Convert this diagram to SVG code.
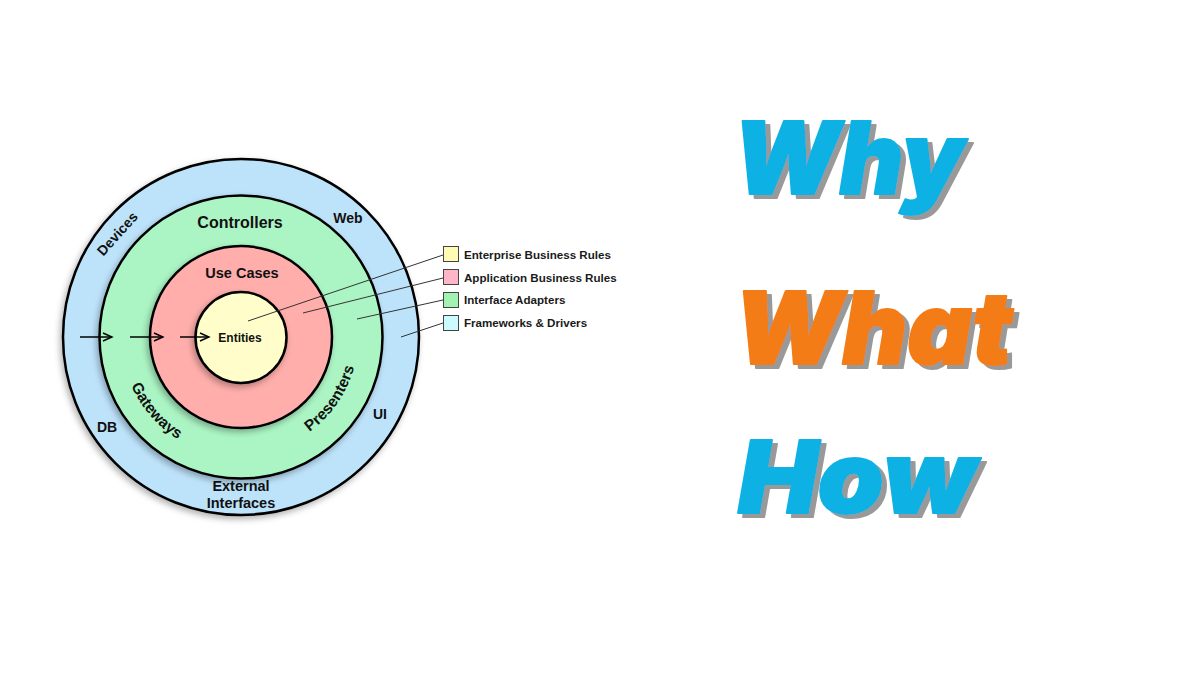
<svg xmlns="http://www.w3.org/2000/svg" width="1200" height="676" viewBox="0 0 1200 676">
  <defs>
    <filter id="sh" x="-20%" y="-20%" width="140%" height="140%">
      <feDropShadow dx="-2" dy="3" stdDeviation="3" flood-color="#000" flood-opacity="0.3"/>
    </filter>
    <filter id="tsh" x="-5%" y="-10%" width="115%" height="130%">
      <feOffset in="SourceAlpha" dx="5" dy="4" result="o"/>
      <feFlood flood-color="#999999"/>
      <feComposite in2="o" operator="in" result="s"/>
      <feMerge><feMergeNode in="s"/><feMergeNode in="SourceGraphic"/></feMerge>
    </filter>
    <marker id="arr" markerWidth="12" markerHeight="10" refX="10" refY="5" orient="auto" markerUnits="userSpaceOnUse">
      <path d="M1,1 L10,5 L1,9" fill="none" stroke="#000" stroke-width="1.4"/>
    </marker>
    <path id="gwPath" d="M121,337 A120,120 0 0 0 361,337"/>
    <path id="prPath" d="M124,337 A117,117 0 0 0 358,337"/>
  </defs>
  <style>
    .ring { stroke: #000; stroke-width: 2.5; }
    .lbl { font-family: "Liberation Sans", Arial, sans-serif; font-weight: bold; fill: #111; }
    .leg { font-family: "Liberation Sans", Arial, sans-serif; font-weight: bold; font-size: 11.6px; fill: #1a1a1a; }
    .box { stroke: #444; stroke-width: 1; }
    .lead { stroke: #333; stroke-width: 1; fill: none; }
    .flow { stroke: #000; stroke-width: 1.5; fill: none; }
    .big { font-family: Inter, "Liberation Sans", sans-serif; font-weight: 900; font-style: italic; font-size: 100px; stroke-width: 2; stroke-linejoin: round; }
    .blue { fill: #0bb1e3; stroke: #0bb1e3; }
    .orange { fill: #f47c14; stroke: #f47c14; }
  </style>
  <rect width="1200" height="676" fill="#fff"/>

  <g id="frameworks-drivers">
    <circle class="ring" cx="241" cy="337" r="178" fill="#bde3fb" filter="url(#sh)"/>
    <text class="lbl" font-size="14" transform="translate(121,237) rotate(-48)" text-anchor="middle">Devices</text>
    <text class="lbl" font-size="14" x="348" y="223" text-anchor="middle">Web</text>
    <text class="lbl" font-size="14" x="107" y="432" text-anchor="middle">DB</text>
    <text class="lbl" font-size="14" x="380" y="419" text-anchor="middle">UI</text>
    <text class="lbl" font-size="14.5" x="241" y="491" text-anchor="middle">External</text>
    <text class="lbl" font-size="14.5" x="241" y="508" text-anchor="middle">Interfaces</text>
  </g>
  <g id="interface-adapters">
    <circle class="ring" cx="241" cy="337" r="141.5" fill="#abf5c4" filter="url(#sh)"/>
    <text class="lbl" font-size="16" x="240" y="228" text-anchor="middle">Controllers</text>
    <text class="lbl" font-size="15.5"><textPath href="#gwPath" startOffset="86" text-anchor="middle">Gateways</textPath></text>
    <text class="lbl" font-size="15.5"><textPath href="#prPath" startOffset="297" text-anchor="middle">Presenters</textPath></text>
  </g>
  <g id="application-business-rules">
    <circle class="ring" cx="241" cy="337" r="91" fill="#ffaeab" filter="url(#sh)"/>
    <text class="lbl" font-size="14.5" x="242" y="278" text-anchor="middle">Use Cases</text>
  </g>
  <g id="enterprise-business-rules">
    <circle class="ring" cx="241" cy="337.5" r="45.5" fill="#fffdc9" filter="url(#sh)"/>
    <text class="lbl" font-size="12" x="240" y="342" text-anchor="middle">Entities</text>
  </g>

  <g id="connectors">
    <line class="flow" x1="80" y1="337" x2="112" y2="337" marker-end="url(#arr)"/>
    <line class="flow" x1="130" y1="337" x2="163" y2="337" marker-end="url(#arr)"/>
    <line class="flow" x1="180" y1="337" x2="209" y2="337" marker-end="url(#arr)"/>
    <line class="lead" x1="248" y1="321" x2="443" y2="255"/>
    <line class="lead" x1="303" y1="313" x2="443" y2="278"/>
    <line class="lead" x1="357" y1="319" x2="443" y2="300"/>
    <line class="lead" x1="401" y1="337" x2="443" y2="323"/>
  </g>

  <g id="legend-enterprise">
    <rect class="box" x="443.5" y="246.5" width="15" height="15" fill="#fffbb5"/>
    <text class="leg" x="464" y="258.5">Enterprise Business Rules</text>
  </g>
  <g id="legend-application">
    <rect class="box" x="443.5" y="269.5" width="15" height="15" fill="#ffb5c8"/>
    <text class="leg" x="464" y="281.5">Application Business Rules</text>
  </g>
  <g id="legend-interface">
    <rect class="box" x="443.5" y="292.5" width="15" height="15" fill="#a2f2b2"/>
    <text class="leg" x="464" y="304">Interface Adapters</text>
  </g>
  <g id="legend-frameworks">
    <rect class="box" x="443.5" y="315.5" width="15" height="15" fill="#cbfbff"/>
    <text class="leg" x="464" y="327">Frameworks &amp; Drivers</text>
  </g>

  <g id="title-why">
    <text class="big blue" x="733" y="194" filter="url(#tsh)" textLength="231" lengthAdjust="spacingAndGlyphs">Why</text>
  </g>
  <g id="title-what">
    <text class="big orange" x="734" y="364" filter="url(#tsh)" textLength="278" lengthAdjust="spacingAndGlyphs">What</text>
  </g>
  <g id="title-how">
    <text class="big blue" x="738" y="513" filter="url(#tsh)" textLength="238" lengthAdjust="spacingAndGlyphs">How</text>
  </g>
</svg>
